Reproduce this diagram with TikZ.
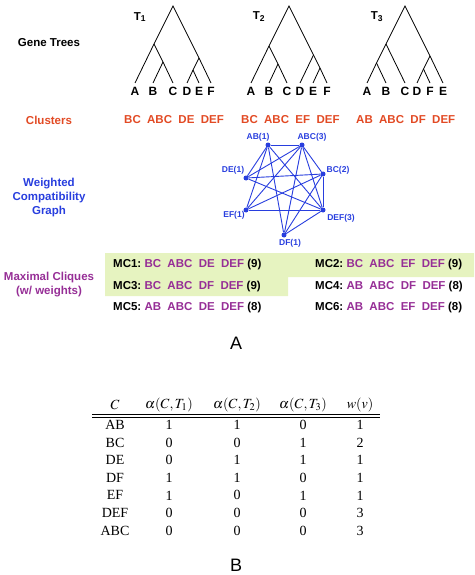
\documentclass[tikz,border=0pt]{standalone}
\usepackage{mathptmx}
\usepackage{fontspec}
\setmainfont{Liberation Serif}
\setsansfont{Liberation Sans}
\usepackage{tikz}
\definecolor{R}{RGB}{226, 74, 36}
\definecolor{Bl}{RGB}{40, 62, 222}
\definecolor{P}{RGB}{150, 46, 150}
\definecolor{G}{RGB}{230, 243, 192}

\begin{document}
\begin{tikzpicture}[x=1pt, y=-1pt,
    lbl/.style={font=\sffamily\bfseries\fontsize{11.5}{14}\selectfont, align=center},
    leaf/.style={font=\sffamily\bfseries\fontsize{12}{14}\selectfont, anchor=north, inner sep=4pt},
    branch/.style={line width=0.8pt},
    clus/.style={font=\sffamily\bfseries\fontsize{11.5}{14}\selectfont, text=R, anchor=west, inner sep=0pt},
    gdot/.style={circle, fill=Bl, inner sep=0pt, minimum size=5pt},
    gedge/.style={draw=Bl, line width=0.9pt},
    glab/.style={font=\sffamily\bfseries\fontsize{8.5}{10}\selectfont, text=Bl, inner sep=0pt},
    mc/.style={font=\sffamily\bfseries\fontsize{11.5}{14}\selectfont, anchor=west, inner sep=0pt},
    tcell/.style={font=\fontsize{14}{16}\selectfont, inner sep=0pt},
    big/.style={font=\sffamily\fontsize{18}{20}\selectfont, inner sep=0pt}]
   	\useasboundingbox (0,0) rectangle (474,575);

    %Etiquetas de la izquierda
   	\node[lbl] (gt) at (49,43) {Gene Trees};
   	\node[lbl, text=R] (cl) at (49,120) {Clusters};
   	\node[lbl, text=Bl] (wcg) at (49,198) {Weighted\\Compatibility\\Graph};
   	\node[lbl, text=P] (mcl) at (49,285) {Maximal Cliques\\(w/ weights)};

    %Arbol T1: ((A,(B,C)),((D,E),F))
   	\node[lbl] (t1) at (140,17) {T\textsubscript{1}};
   	\coordinate (t1r) at (173,6);
   	\coordinate (t1abc) at (154,44);
   	\coordinate (t1bc) at (163,62);
   	\coordinate (t1def) at (199,58);
   	\coordinate (t1de) at (193,70);
   	\node[leaf] (t1a) at (135,83) {A};
   	\node[leaf] (t1b) at (153,83) {B};
   	\node[leaf] (t1c) at (173,83) {C};
   	\node[leaf] (t1d) at (187,83) {D};
   	\node[leaf] (t1e) at (199,83) {E};
   	\node[leaf] (t1f) at (211,83) {F};
   	\draw[branch] (t1a.north) -- (t1abc) -- (t1r) -- (t1def) -- (t1f.north);
   	\draw[branch] (t1abc) -- (t1bc) -- (t1c.north);
   	\draw[branch] (t1bc) -- (t1b.north);
   	\draw[branch] (t1def) -- (t1de) -- (t1d.north);
   	\draw[branch] (t1de) -- (t1e.north);

    %Arbol T2: ((A,(B,C)),(D,(E,F)))
   	\node[lbl] (t2) at (259,17) {T\textsubscript{2}};
   	\coordinate (t2r) at (289,6);
   	\coordinate (t2abc) at (269,46);
   	\coordinate (t2bc) at (278,64);
   	\coordinate (t2def) at (313.5,55);
   	\coordinate (t2ef) at (320,68);
   	\node[leaf] (t2a) at (251,83) {A};
   	\node[leaf] (t2b) at (269,83) {B};
   	\node[leaf] (t2c) at (287,83) {C};
   	\node[leaf] (t2d) at (300,83) {D};
   	\node[leaf] (t2e) at (313,83) {E};
   	\node[leaf] (t2f) at (327,83) {F};
   	\draw[branch] (t2a.north) -- (t2abc) -- (t2r) -- (t2def) -- (t2ef) -- (t2f.north);
   	\draw[branch] (t2abc) -- (t2bc) -- (t2c.north);
   	\draw[branch] (t2bc) -- (t2b.north);
   	\draw[branch] (t2def) -- (t2d.north);
   	\draw[branch] (t2ef) -- (t2e.north);

    %Arbol T3: (((A,B),C),((D,F),E))
   	\node[lbl] (t3) at (377,17) {T\textsubscript{3}};
   	\coordinate (t3r) at (405,6);
   	\coordinate (t3abc) at (386,44);
   	\coordinate (t3ab) at (376.5,63);
   	\coordinate (t3dfe) at (430,56);
   	\coordinate (t3df) at (423.5,69);
   	\node[leaf] (t3a) at (367,83) {A};
   	\node[leaf] (t3b) at (386,83) {B};
   	\node[leaf] (t3c) at (405,83) {C};
   	\node[leaf] (t3d) at (417,83) {D};
   	\node[leaf] (t3f) at (430,83) {F};
   	\node[leaf] (t3e) at (443,83) {E};
   	\draw[branch] (t3a.north) -- (t3ab) -- (t3abc) -- (t3r) -- (t3dfe) -- (t3e.north);
   	\draw[branch] (t3ab) -- (t3b.north);
   	\draw[branch] (t3abc) -- (t3c.north);
   	\draw[branch] (t3dfe) -- (t3df) -- (t3d.north);
   	\draw[branch] (t3df) -- (t3f.north);

    %Clusters de cada arbol
   	\node[clus] (c1) at (124,120) {BC\ \ ABC\ \ DE\ \ DEF};
   	\node[clus] (c2) at (241,120) {BC\ \ ABC\ \ EF\ \ DEF};
   	\node[clus] (c3) at (356,120) {AB\ \ ABC\ \ DF\ \ DEF};

    %Grafo de compatibilidad
   	\node[gdot] (ab) at (268,145) {};
   	\node[gdot] (abc) at (302,145) {};
   	\node[gdot] (de) at (246,178) {};
   	\node[gdot] (bc) at (323,174) {};
   	\node[gdot] (ef) at (246,210) {};
   	\node[gdot] (def) at (323,210) {};
   	\node[gdot] (df) at (284,235) {};
   	\foreach \a/\b in {ab/abc, ab/de, ab/df, ab/ef, ab/def,
   	                   bc/abc, bc/de, bc/df, bc/ef, bc/def,
   	                   abc/de, abc/df, abc/ef, abc/def,
   	                   def/de, def/df, def/ef}
   	    \draw[gedge] (\a) -- (\b);
   	\node[glab] (abl) at (258,137) {AB(1)};
   	\node[glab] (abcl) at (312,137) {ABC(3)};
   	\node[glab] (del) at (233,170) {DE(1)};
   	\node[glab] (bcl) at (338,170) {BC(2)};
   	\node[glab] (efl) at (234,215) {EF(1)};
   	\node[glab] (defl) at (341,218) {DEF(3)};
   	\node[glab] (dfl) at (290,243) {DF(1)};

    %Cliques maximales, las de peso 9 en verde
   	\fill[color=G] (105,253) -- (474,253) -- (474,277) -- (288,277) -- (288,296) -- (105,296) -- cycle;
   	\node[mc] (mc1) at (113,265) {MC1:\ \textcolor{P}{BC\ \ ABC\ \ DE\ \ DEF}\ (9)};
   	\node[mc] (mc2) at (315,265) {MC2:\ \textcolor{P}{BC\ \ ABC\ \ EF\ \ DEF}\ (9)};
   	\node[mc] (mc3) at (113,287) {MC3:\ \textcolor{P}{BC\ \ ABC\ \ DF\ \ DEF}\ (9)};
   	\node[mc] (mc4) at (315,287) {MC4:\ \textcolor{P}{AB\ \ ABC\ \ DF\ \ DEF}\ (8)};
   	\node[mc] (mc5) at (113,308) {MC5:\ \textcolor{P}{AB\ \ ABC\ \ DE\ \ DEF}\ (8)};
   	\node[mc] (mc6) at (315,308) {MC6:\ \textcolor{P}{AB\ \ ABC\ \ EF\ \ DEF}\ (8)};

   	\node[big] (pa) at (236,343) {A};

    %Tabla
   	\node[tcell] (hc) at (115,405) {$C$};
   	\node[tcell] (h1) at (169,405) {$\alpha(C,T_1)$};
   	\node[tcell] (h2) at (237,405) {$\alpha(C,T_2)$};
   	\node[tcell] (h3) at (303,405) {$\alpha(C,T_3)$};
   	\node[tcell] (hw) at (360,405) {$w(v)$};
   	\draw[line width=0.6pt] (92,414.3) -- (380,414.3);
   	\draw[line width=0.6pt] (92,416.8) -- (380,416.8);
   	\foreach \cl/\a/\b/\c/\w [count=\i] in {AB/1/1/0/1, BC/0/0/1/2, DE/0/1/1/1,
   	        DF/1/1/0/1, EF/1/0/1/1, DEF/0/0/0/3, ABC/0/0/0/3} {
   	    \node[tcell] (r\i c0) at (115,407.4+17.6*\i) {\cl};
   	    \node[tcell] (r\i c1) at (169,407.4+17.6*\i) {\a};
   	    \node[tcell] (r\i c2) at (237,407.4+17.6*\i) {\b};
   	    \node[tcell] (r\i c3) at (303,407.4+17.6*\i) {\c};
   	    \node[tcell] (r\i c4) at (360,407.4+17.6*\i) {\w};
   	}

   	\node[big] (pb) at (236,565) {B};
\end{tikzpicture}
\end{document}
